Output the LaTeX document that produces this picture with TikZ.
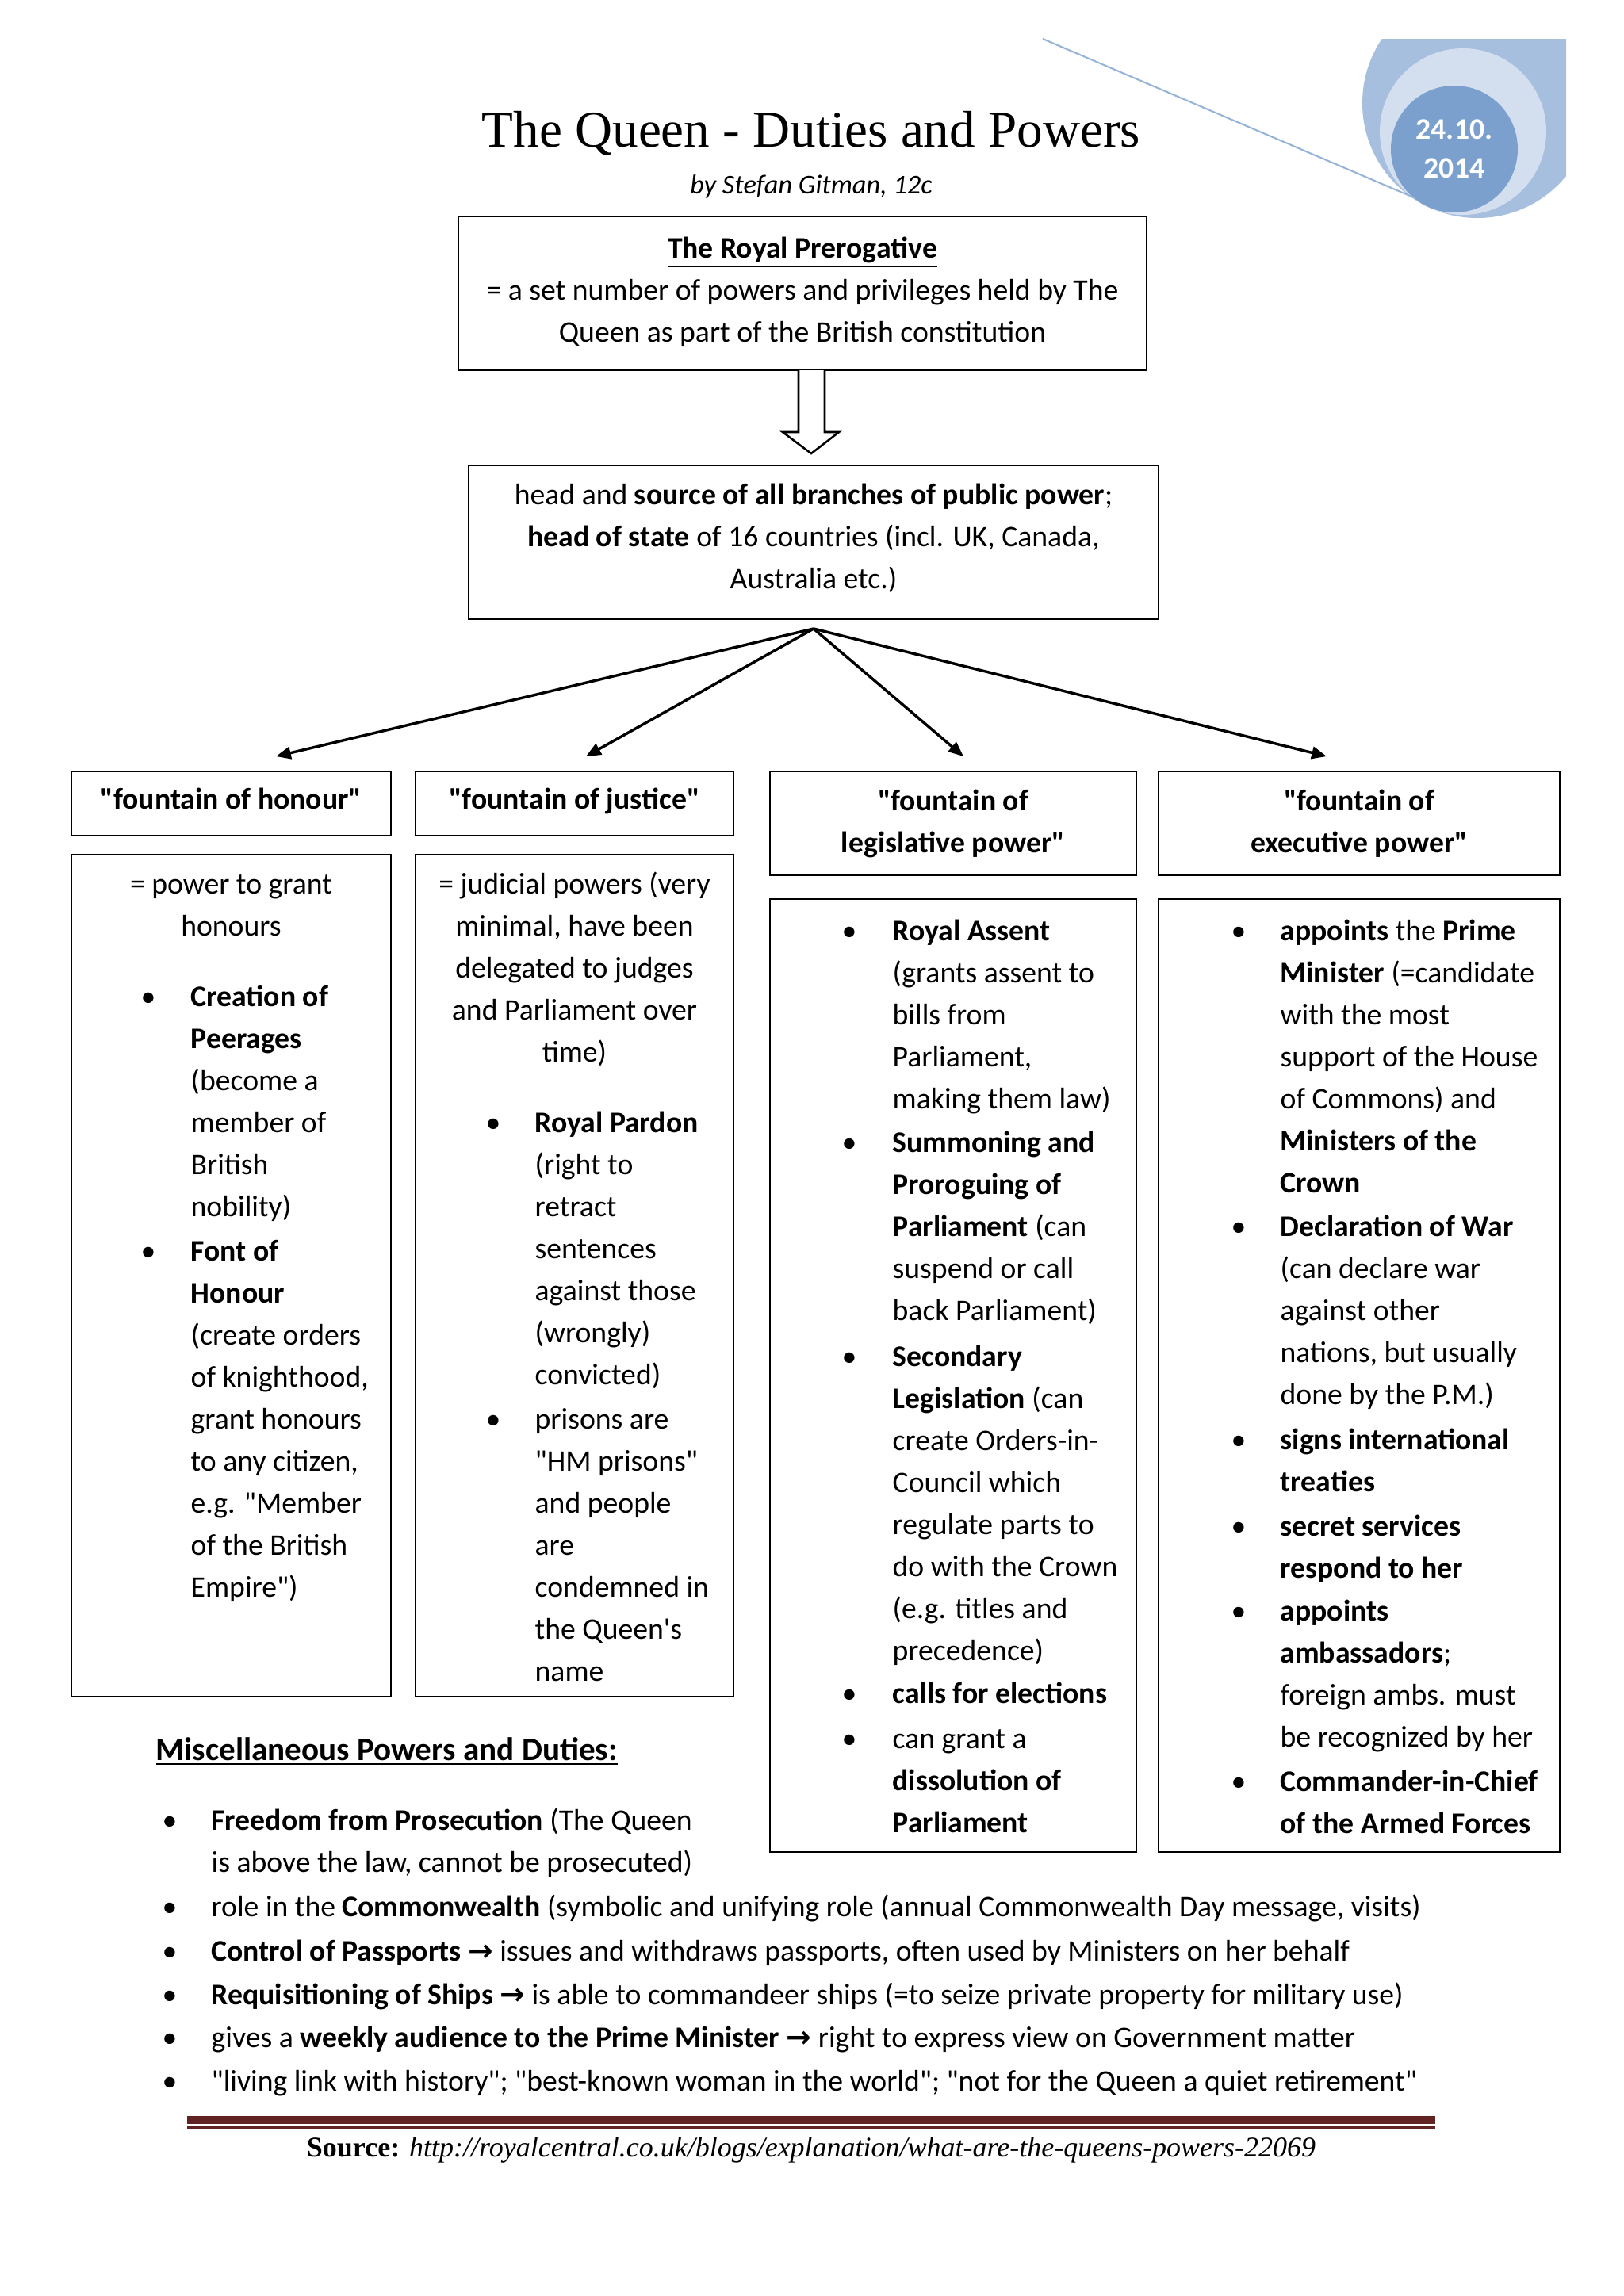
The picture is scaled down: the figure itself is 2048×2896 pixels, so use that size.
\documentclass[tikz,border=0pt]{standalone}
\usepackage{fontspec}
\setmainfont{Carlito}[Ligatures=TeXOff]
\newfontfamily\titlefont{Liberation Serif}
\newfontfamily\arrowfont{DejaVu Sans}
\usepackage{xcolor}
\usetikzlibrary{arrows.meta, positioning, calc}
\definecolor{ringouter}{RGB}{167,191,222}
\definecolor{ringmid}{RGB}{211,223,238}
\definecolor{ringinner}{RGB}{123,160,205}
\definecolor{ringline}{RGB}{149,179,215}
\definecolor{ruleline}{RGB}{98,36,35}
\newcommand{\pxu}{0.10254mm}
\newcommand{\bodyfont}{\fontsize{11pt}{15.46pt}\selectfont}
\newcommand{\ra}{{\arrowfont\bfseries →}}
\tikzset{
  box/.style={draw, line width=0.75pt, inner sep=0pt, align=center},
  boxsize/.style 2 args={minimum width={#1*\pxu}, minimum height={#2*\pxu}},
  fan/.style={-{Triangle[length=5.5pt,width=4.5pt]}, line width=1pt},
  hollow/.style={line width=0.75pt, fill=white},
  % multi-line text: the base anchor sits on the last line
  txt/.style={anchor=base west, inner sep=0pt, align=left},
  dot/.style={anchor=base, inner sep=0pt}
}

\begin{document}
\begin{tikzpicture}[x=\pxu, y=-\pxu, every node/.style={font=\bodyfont}]
  \useasboundingbox[fill=white] (0,0) rectangle (2048,2896);

  % date badge in the top right corner
  \begin{scope}
    \clip (1600,49) rectangle (1975,420);
    \fill[ringouter] (1863,130) circle (145);
    \fill[ringmid] (1845,166) circle (105);
    \fill[ringinner] (1834,188) circle (80);
  \end{scope}
  \draw[ringline, line width=0.6pt] (1315,49) -- (1785,250);
  \node[align=center, text=white, font=\fontsize{11pt}{14.3pt}\selectfont\bfseries] (datelbl) at (1834,188) {24.10.\\2014};

  % title
  \node[anchor=base, font=\titlefont\fontsize{19pt}{23pt}\selectfont] (title) at (1023,185) {The Queen - Duties and Powers};
  \node[anchor=base, font=\fontsize{10pt}{12pt}\selectfont\itshape] (byline) at (1023,244) {by Stefan Gitman, 12c};

  % top boxes
  \node[box, boxsize={868}{194}] (prerog) at (1012,370)
    {\textbf{\underline{The Royal Prerogative}}\\= a set number of powers and privileges held by The\\Queen as part of the British constitution\rule[-3pt]{0pt}{0pt}};
  \node[box, boxsize={870}{194}] (head) at (1026,684)
    {head and \textbf{source of all branches of public power};\\\textbf{head of state} of 16 countries (incl. UK, Canada,\\Australia etc.)\rule[-4.5pt]{0pt}{0pt}};
  \coordinate (hollowtip) at (1023,572);
  \draw[hollow] (1007,467) -- (1007,545) -- (987,545) -- (hollowtip) -- (1058,545) -- (1040,545) -- (1040,467);

  % the four fountains
  \node[box, boxsize={403}{81}, text depth=3.5pt, font=\bodyfont\bfseries] (hdrhon) at (291.5,1013.5) {"fountain of honour"};
  \node[box, boxsize={401}{81}, text depth=3.5pt, font=\bodyfont\bfseries] (hdrjus) at (724.5,1013.5) {"fountain of justice"};
  \node[box, boxsize={462}{131}, font=\bodyfont\bfseries] (hdrleg) at (1202,1038.5) {"fountain of\\legislative power"};
  \node[box, boxsize={506}{131}, font=\bodyfont\bfseries] (hdrexe) at (1714,1038.5) {"fountain of\\executive power"};

  \coordinate (fan) at (1026,793);
  \coordinate (tiphon) at (348,954);
  \coordinate (tipjus) at (739,954);
  \coordinate (tipleg) at (1215,954);
  \coordinate (tipexe) at (1673,954);
  \foreach \t in {tiphon,tipjus,tipleg,tipexe}
    \draw[fan] (fan) -- (\t);

  \node[box, boxsize={403}{1062}] (bodyhon) at (291.5,1609) {};
  \node[box, boxsize={401}{1062}] (bodyjus) at (724.5,1609) {};
  \node[box, boxsize={462}{1202}] (bodyleg) at (1202,1735) {};
  \node[box, boxsize={506}{1202}] (bodyexe) at (1714,1735) {};

  % fountain of honour
  \node[anchor=base, inner sep=0pt, align=center] (introhon) at (291.5,1180) {= power to grant\\honours};
  \foreach \y in {1269,1590}
    \node[dot] (dhon\y) at (187,\y) {\textbullet};
  \node[txt] (peerage) at (240,1534) {\textbf{Creation of}\\\textbf{Peerages}\\(become a\\member of\\British\\nobility)};
  \node[txt] (fonthon) at (240,2014) {\textbf{Font of}\\\textbf{Honour}\\(create orders\\of knighthood,\\grant honours\\to any citizen,\\e.g. "Member\\of the British\\Empire")};

  % fountain of justice
  \node[anchor=base, inner sep=0pt, align=center] (introjus) at (724.5,1339) {= judicial powers (very\\minimal, have been\\delegated to judges\\and Parliament over\\time)};
  \foreach \y in {1428,1802}
    \node[dot] (djus\y) at (622,\y) {\textbullet};
  \node[txt] (pardon) at (674,1746) {\textbf{Royal Pardon}\\(right to\\retract\\sentences\\against those\\(wrongly)\\convicted)};
  \node[txt] (prisons) at (674,2120) {prisons are\\"HM prisons"\\and people\\are\\condemned in\\the Queen's\\name};

  % fountain of legislative power
  \foreach \y in {1186,1453,1723,2148,2205}
    \node[dot] (dleg\y) at (1071,\y) {\textbullet};
  \node[txt] (assent) at (1125,1398) {\textbf{Royal Assent}\\(grants assent to\\bills from\\Parliament,\\making them law)};
  \node[txt] (summon) at (1125,1665) {\textbf{Summoning and}\\\textbf{Proroguing of}\\\textbf{Parliament} (can\\suspend or call\\back Parliament)};
  \node[txt] (secleg) at (1125,2094) {\textbf{Secondary}\\\textbf{Legislation} (can\\create Orders-in-\\Council which\\regulate parts to\\do with the Crown\\(e.g. titles and\\precedence)};
  \node[txt] (elect) at (1125,2148) {\textbf{calls for elections}};
  \node[txt] (dissol) at (1125,2311) {can grant a\\\textbf{dissolution of}\\\textbf{Parliament}};

  % fountain of executive power
  \foreach \y in {1186,1559,1828,1937,2044,2259}
    \node[dot] (dexe\y) at (1562,\y) {\textbullet};
  \node[txt] (primemin) at (1614,1504) {\textbf{appoints} the \textbf{Prime}\\\textbf{Minister} (=candidate\\with the most\\support of the House\\of Commons) and\\\textbf{Ministers of the}\\\textbf{Crown}};
  \node[txt] (war) at (1614,1771) {\textbf{Declaration of War}\\(can declare war\\against other\\nations, but usually\\done by the P.M.)};
  \node[txt] (treaty) at (1614,1881) {\textbf{signs international}\\\textbf{treaties}};
  \node[txt] (secret) at (1614,1990) {\textbf{secret services}\\\textbf{respond to her}};
  \node[txt] (ambass) at (1614,2203) {\textbf{appoints}\\\textbf{ambassadors};\\foreign ambs. must\\be recognized by her};
  \node[txt] (command) at (1614,2312) {\textbf{Commander-in-Chief}\\\textbf{of the Armed Forces}};

  % miscellaneous
  \node[txt, font=\fontsize{12pt}{14pt}\selectfont] (mischead) at (196,2220) {\textbf{\underline{Miscellaneous Powers and Duties:}}};
  \foreach \y in {2308,2417,2473,2528,2582,2637}
    \node[dot] (dmis\y) at (214,\y) {\textbullet};
  \node[txt] (prosec) at (266,2361) {\textbf{Freedom from Prosecution} (The Queen\\is above the law, cannot be prosecuted)};
  \node[txt] (cwealth) at (266,2417) {role in the \textbf{Commonwealth} (symbolic and unifying role (annual Commonwealth Day message, visits)};
  \node[txt] (passport) at (266,2473) {\textbf{Control of Passports} \ra{} issues and withdraws passports, often used by Ministers on her behalf};
  \node[txt] (ships) at (266,2528) {\textbf{Requisitioning of Ships} \ra{} is able to commandeer ships (=to seize private property for military use)};
  \node[txt] (audience) at (266,2582) {gives a \textbf{weekly audience to the Prime Minister} \ra{} right to express view on Government matter};
  \node[txt] (history) at (266,2637) {"living link with history"; "best-known woman in the world"; "not for the Queen a quiet retirement"};

  % footer
  \draw[ruleline, line width=2.9pt] (236,2674) -- (1810,2674);
  \draw[ruleline, line width=0.9pt] (236,2683) -- (1810,2683);
  \node[anchor=base, font=\titlefont\fontsize{10.5pt}{12pt}\selectfont] (source) at (1023,2720)
    {\textbf{Source:} \textit{http://royalcentral.co.uk/blogs/explanation/what-are-the-queens-powers-22069}};
\end{tikzpicture}
\end{document}
